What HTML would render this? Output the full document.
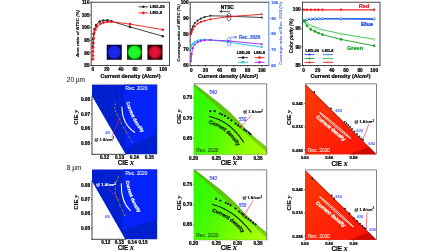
<!DOCTYPE html>
<html><head><meta charset="utf-8"><title>Figure</title>
<style>html,body{margin:0;padding:0;background:#fff;overflow:hidden}svg{display:block;filter:blur(0.35px)}text{font-family:"Liberation Sans", sans-serif}</style>
</head><body>
<svg width="448" height="252" viewBox="0 0 448 252">
<rect width="448" height="252" fill="#fff"/>
<defs>
<radialGradient id="pb"><stop offset="0" stop-color="#1c2cf0"/><stop offset="0.8" stop-color="#1822e6"/><stop offset="1" stop-color="#0c1080"/></radialGradient>
<radialGradient id="pg"><stop offset="0" stop-color="#22fc2c"/><stop offset="0.8" stop-color="#1cf426"/><stop offset="1" stop-color="#0c8a14"/></radialGradient>
<radialGradient id="pr"><stop offset="0" stop-color="#e21a3a"/><stop offset="0.7" stop-color="#d80c30"/><stop offset="1" stop-color="#70040c"/></radialGradient>
<linearGradient id="gg" gradientUnits="userSpaceOnUse" x1="196" y1="118" x2="268" y2="150"><stop offset="0" stop-color="#34fa00"/><stop offset="0.3" stop-color="#50fb00"/><stop offset="0.7" stop-color="#8cfd00"/><stop offset="1" stop-color="#b0ff00"/></linearGradient>
<linearGradient id="gg2" gradientUnits="userSpaceOnUse" x1="196" y1="203.5" x2="268" y2="235.5"><stop offset="0" stop-color="#34fa00"/><stop offset="0.3" stop-color="#50fb00"/><stop offset="0.7" stop-color="#8cfd00"/><stop offset="1" stop-color="#b0ff00"/></linearGradient>
<linearGradient id="gb" x1="0" y1="0" x2="1" y2="1"><stop offset="0" stop-color="#44c400"/><stop offset="1" stop-color="#7cd600"/></linearGradient>
<linearGradient id="rg" x1="0" y1="0" x2="1" y2="1"><stop offset="0" stop-color="#ff3c00"/><stop offset="0.5" stop-color="#ff2606"/><stop offset="1" stop-color="#ff1008"/></linearGradient>
</defs>
<rect x="91.2" y="2.2" width="78.2" height="63.2" fill="none" stroke="#2a2a2a" stroke-width="0.85"/>
<line x1="92.7" y1="65.4" x2="92.7" y2="66.8" stroke="#111" stroke-width="0.5" />
<text x="92.7" y="71.3" font-size="4.7" fill="#000" font-weight="bold" text-anchor="middle" stroke="#000" stroke-width="0.24" >0</text>
<line x1="106.8" y1="65.4" x2="106.8" y2="66.8" stroke="#111" stroke-width="0.5" />
<text x="106.8" y="71.3" font-size="4.7" fill="#000" font-weight="bold" text-anchor="middle" stroke="#000" stroke-width="0.24" >20</text>
<line x1="120.9" y1="65.4" x2="120.9" y2="66.8" stroke="#111" stroke-width="0.5" />
<text x="120.9" y="71.3" font-size="4.7" fill="#000" font-weight="bold" text-anchor="middle" stroke="#000" stroke-width="0.24" >40</text>
<line x1="135" y1="65.4" x2="135" y2="66.8" stroke="#111" stroke-width="0.5" />
<text x="135" y="71.3" font-size="4.7" fill="#000" font-weight="bold" text-anchor="middle" stroke="#000" stroke-width="0.24" >60</text>
<line x1="149.1" y1="65.4" x2="149.1" y2="66.8" stroke="#111" stroke-width="0.5" />
<text x="149.1" y="71.3" font-size="4.7" fill="#000" font-weight="bold" text-anchor="middle" stroke="#000" stroke-width="0.24" >80</text>
<line x1="163.2" y1="65.4" x2="163.2" y2="66.8" stroke="#111" stroke-width="0.5" />
<text x="163.2" y="71.3" font-size="4.7" fill="#000" font-weight="bold" text-anchor="middle" stroke="#000" stroke-width="0.24" >100</text>
<line x1="99.75" y1="65.4" x2="99.75" y2="66.3" stroke="#111" stroke-width="0.4" />
<line x1="113.85" y1="65.4" x2="113.85" y2="66.3" stroke="#111" stroke-width="0.4" />
<line x1="127.95" y1="65.4" x2="127.95" y2="66.3" stroke="#111" stroke-width="0.4" />
<line x1="142.05" y1="65.4" x2="142.05" y2="66.3" stroke="#111" stroke-width="0.4" />
<line x1="156.15" y1="65.4" x2="156.15" y2="66.3" stroke="#111" stroke-width="0.4" />
<line x1="91.2" y1="65.35" x2="89.9" y2="65.35" stroke="#111" stroke-width="0.5" />
<text x="89.5" y="67.05" font-size="4.7" fill="#000" font-weight="bold" text-anchor="end" stroke="#000" stroke-width="0.24" >85</text>
<line x1="91.2" y1="52.8" x2="89.9" y2="52.8" stroke="#111" stroke-width="0.5" />
<text x="89.5" y="54.5" font-size="4.7" fill="#000" font-weight="bold" text-anchor="end" stroke="#000" stroke-width="0.24" >90</text>
<line x1="91.2" y1="40.25" x2="89.9" y2="40.25" stroke="#111" stroke-width="0.5" />
<text x="89.5" y="41.95" font-size="4.7" fill="#000" font-weight="bold" text-anchor="end" stroke="#000" stroke-width="0.24" >95</text>
<line x1="91.2" y1="27.7" x2="89.9" y2="27.7" stroke="#111" stroke-width="0.5" />
<text x="89.5" y="29.4" font-size="4.7" fill="#000" font-weight="bold" text-anchor="end" stroke="#000" stroke-width="0.24" >100</text>
<line x1="91.2" y1="15.15" x2="89.9" y2="15.15" stroke="#111" stroke-width="0.5" />
<text x="89.5" y="16.85" font-size="4.7" fill="#000" font-weight="bold" text-anchor="end" stroke="#000" stroke-width="0.24" >105</text>
<line x1="91.2" y1="2.6" x2="89.9" y2="2.6" stroke="#111" stroke-width="0.5" />
<text x="89.5" y="4.3" font-size="4.7" fill="#000" font-weight="bold" text-anchor="end" stroke="#000" stroke-width="0.24" >110</text>
<text x="130.5" y="78.2" font-size="5.4" fill="#000" font-weight="bold" text-anchor="middle" stroke="#000" stroke-width="0.24" >Current density (A/cm<tspan font-size="3.2" dy="-1.7">2</tspan><tspan dy="1.7">)</tspan></text>
<text x="79.2" y="33.5" font-size="4.4" fill="#000" font-weight="bold" text-anchor="middle" transform="rotate(-90 79.2 33.5)" stroke="#000" stroke-width="0.1" font-style="italic">Area ratio of NTSC (%)</text>
<polyline points="92.9,47 93,43 93.2,39 93.6,34 94.5,29 96.2,25 99.7,21.5 103.4,20.5 107.4,20.4 111.4,21.3 130,26.9 162.8,36.2" fill="none" stroke="#2a2a2a" stroke-width="0.9" stroke-linejoin="round" />
<circle cx="92.9" cy="47" r="1.3" fill="#2a2a2a"/>
<circle cx="93" cy="43" r="1.3" fill="#2a2a2a"/>
<circle cx="93.2" cy="39" r="1.3" fill="#2a2a2a"/>
<circle cx="93.6" cy="34" r="1.3" fill="#2a2a2a"/>
<circle cx="94.5" cy="29" r="1.3" fill="#2a2a2a"/>
<circle cx="96.2" cy="25" r="1.3" fill="#2a2a2a"/>
<circle cx="99.7" cy="21.5" r="1.3" fill="#2a2a2a"/>
<circle cx="103.4" cy="20.5" r="1.3" fill="#2a2a2a"/>
<circle cx="107.4" cy="20.4" r="1.3" fill="#2a2a2a"/>
<circle cx="111.4" cy="21.3" r="1.3" fill="#2a2a2a"/>
<circle cx="130" cy="26.9" r="1.3" fill="#2a2a2a"/>
<circle cx="162.8" cy="36.2" r="1.3" fill="#2a2a2a"/>
<polyline points="92.9,59.3 92.95,55.5 93,51.5 93.1,47.5 93.3,43 93.6,38 94.2,33 95.4,29.7 97,26.5 100.2,23.8 103.4,22.6 107.4,22 111.4,21.7 130,24.1 162.8,29.7" fill="none" stroke="#f01818" stroke-width="0.9" stroke-linejoin="round" />
<circle cx="92.9" cy="59.3" r="1.3" fill="#f01818"/>
<circle cx="92.95" cy="55.5" r="1.3" fill="#f01818"/>
<circle cx="93" cy="51.5" r="1.3" fill="#f01818"/>
<circle cx="93.1" cy="47.5" r="1.3" fill="#f01818"/>
<circle cx="93.3" cy="43" r="1.3" fill="#f01818"/>
<circle cx="93.6" cy="38" r="1.3" fill="#f01818"/>
<circle cx="94.2" cy="33" r="1.3" fill="#f01818"/>
<circle cx="95.4" cy="29.7" r="1.3" fill="#f01818"/>
<circle cx="97" cy="26.5" r="1.3" fill="#f01818"/>
<circle cx="100.2" cy="23.8" r="1.3" fill="#f01818"/>
<circle cx="103.4" cy="22.6" r="1.3" fill="#f01818"/>
<circle cx="107.4" cy="22" r="1.3" fill="#f01818"/>
<circle cx="111.4" cy="21.7" r="1.3" fill="#f01818"/>
<circle cx="130" cy="24.1" r="1.3" fill="#f01818"/>
<circle cx="162.8" cy="29.7" r="1.3" fill="#f01818"/>
<polyline points="138.5,6.8 148.2,6.8" fill="none" stroke="#2a2a2a" stroke-width="0.9" stroke-linejoin="round" />
<circle cx="143.3" cy="6.8" r="1.3" fill="#2a2a2a"/>
<text x="149.8" y="8.3" font-size="4.3" fill="#000" font-weight="bold" stroke="#000" stroke-width="0.24" >LED-20</text>
<polyline points="138.5,12.9 148.2,12.9" fill="none" stroke="#f01818" stroke-width="0.9" stroke-linejoin="round" />
<circle cx="143.3" cy="12.9" r="1.3" fill="#f01818"/>
<text x="149.8" y="14.4" font-size="4.3" fill="#000" font-weight="bold" stroke="#000" stroke-width="0.24" >LED-8</text>
<rect x="106.7" y="44.7" width="15.1" height="15.1" fill="#080640"/>
<circle cx="114.25" cy="52.25" r="6.9" fill="url(#pb)"/>
<rect x="127" y="44.7" width="15.1" height="15.1" fill="#084a0c"/>
<circle cx="134.55" cy="52.25" r="6.9" fill="url(#pg)"/>
<rect x="147.4" y="44.7" width="15.1" height="15.1" fill="#200202"/>
<circle cx="154.95000000000002" cy="52.25" r="6.9" fill="url(#pr)"/>
<polyline points="268.8,2.2 190.2,2.2 190.2,65.6 268.8,65.6" fill="none" stroke="#111" stroke-width="0.8"/>
<line x1="268.8" y1="2.2" x2="268.8" y2="65.6" stroke="#3a64ea" stroke-width="0.8" />
<line x1="191.3" y1="65.6" x2="191.3" y2="67" stroke="#111" stroke-width="0.5" />
<text x="191.3" y="71.5" font-size="4.7" fill="#000" font-weight="bold" text-anchor="middle" stroke="#000" stroke-width="0.24" >0</text>
<line x1="205.4" y1="65.6" x2="205.4" y2="67" stroke="#111" stroke-width="0.5" />
<text x="205.4" y="71.5" font-size="4.7" fill="#000" font-weight="bold" text-anchor="middle" stroke="#000" stroke-width="0.24" >20</text>
<line x1="219.5" y1="65.6" x2="219.5" y2="67" stroke="#111" stroke-width="0.5" />
<text x="219.5" y="71.5" font-size="4.7" fill="#000" font-weight="bold" text-anchor="middle" stroke="#000" stroke-width="0.24" >40</text>
<line x1="233.6" y1="65.6" x2="233.6" y2="67" stroke="#111" stroke-width="0.5" />
<text x="233.6" y="71.5" font-size="4.7" fill="#000" font-weight="bold" text-anchor="middle" stroke="#000" stroke-width="0.24" >60</text>
<line x1="247.7" y1="65.6" x2="247.7" y2="67" stroke="#111" stroke-width="0.5" />
<text x="247.7" y="71.5" font-size="4.7" fill="#000" font-weight="bold" text-anchor="middle" stroke="#000" stroke-width="0.24" >80</text>
<line x1="261.8" y1="65.6" x2="261.8" y2="67" stroke="#111" stroke-width="0.5" />
<text x="261.8" y="71.5" font-size="4.7" fill="#000" font-weight="bold" text-anchor="middle" stroke="#000" stroke-width="0.24" >100</text>
<line x1="198.35" y1="65.6" x2="198.35" y2="66.5" stroke="#111" stroke-width="0.4" />
<line x1="212.45" y1="65.6" x2="212.45" y2="66.5" stroke="#111" stroke-width="0.4" />
<line x1="226.55" y1="65.6" x2="226.55" y2="66.5" stroke="#111" stroke-width="0.4" />
<line x1="240.65" y1="65.6" x2="240.65" y2="66.5" stroke="#111" stroke-width="0.4" />
<line x1="254.75" y1="65.6" x2="254.75" y2="66.5" stroke="#111" stroke-width="0.4" />
<line x1="190.2" y1="65.6" x2="188.9" y2="65.6" stroke="#111" stroke-width="0.5" />
<text x="188.5" y="67.3" font-size="4.7" fill="#000" font-weight="bold" text-anchor="end" stroke="#000" stroke-width="0.24" >60</text>
<line x1="268.8" y1="65.6" x2="270.1" y2="65.6" stroke="#3a64ea" stroke-width="0.5" />
<text x="271.2" y="67.1" font-size="4.2" fill="#3a64ea" font-weight="bold" stroke="#3a64ea" stroke-width="0.15" >60</text>
<line x1="190.2" y1="49.75" x2="188.9" y2="49.75" stroke="#111" stroke-width="0.5" />
<text x="188.5" y="51.45" font-size="4.7" fill="#000" font-weight="bold" text-anchor="end" stroke="#000" stroke-width="0.24" >70</text>
<line x1="268.8" y1="49.75" x2="270.1" y2="49.75" stroke="#3a64ea" stroke-width="0.5" />
<text x="271.2" y="51.25" font-size="4.2" fill="#3a64ea" font-weight="bold" stroke="#3a64ea" stroke-width="0.15" >70</text>
<line x1="190.2" y1="33.9" x2="188.9" y2="33.9" stroke="#111" stroke-width="0.5" />
<text x="188.5" y="35.6" font-size="4.7" fill="#000" font-weight="bold" text-anchor="end" stroke="#000" stroke-width="0.24" >80</text>
<line x1="268.8" y1="33.9" x2="270.1" y2="33.9" stroke="#3a64ea" stroke-width="0.5" />
<text x="271.2" y="35.4" font-size="4.2" fill="#3a64ea" font-weight="bold" stroke="#3a64ea" stroke-width="0.15" >80</text>
<line x1="190.2" y1="18.05" x2="188.9" y2="18.05" stroke="#111" stroke-width="0.5" />
<text x="188.5" y="19.75" font-size="4.7" fill="#000" font-weight="bold" text-anchor="end" stroke="#000" stroke-width="0.24" >90</text>
<line x1="268.8" y1="18.05" x2="270.1" y2="18.05" stroke="#3a64ea" stroke-width="0.5" />
<text x="271.2" y="19.55" font-size="4.2" fill="#3a64ea" font-weight="bold" stroke="#3a64ea" stroke-width="0.15" >90</text>
<line x1="190.2" y1="2.2" x2="188.9" y2="2.2" stroke="#111" stroke-width="0.5" />
<text x="188.5" y="3.9" font-size="4.7" fill="#000" font-weight="bold" text-anchor="end" stroke="#000" stroke-width="0.24" >100</text>
<line x1="268.8" y1="2.2" x2="270.1" y2="2.2" stroke="#3a64ea" stroke-width="0.5" />
<text x="271.2" y="3.7" font-size="4.2" fill="#3a64ea" font-weight="bold" stroke="#3a64ea" stroke-width="0.15" >100</text>
<line x1="268.8" y1="57.67" x2="269.7" y2="57.67" stroke="#3a64ea" stroke-width="0.4" />
<line x1="190.2" y1="57.67" x2="189.3" y2="57.67" stroke="#111" stroke-width="0.4" />
<line x1="268.8" y1="41.82" x2="269.7" y2="41.82" stroke="#3a64ea" stroke-width="0.4" />
<line x1="190.2" y1="41.82" x2="189.3" y2="41.82" stroke="#111" stroke-width="0.4" />
<line x1="268.8" y1="25.97" x2="269.7" y2="25.97" stroke="#3a64ea" stroke-width="0.4" />
<line x1="190.2" y1="25.97" x2="189.3" y2="25.97" stroke="#111" stroke-width="0.4" />
<line x1="268.8" y1="10.12" x2="269.7" y2="10.12" stroke="#3a64ea" stroke-width="0.4" />
<line x1="190.2" y1="10.12" x2="189.3" y2="10.12" stroke="#111" stroke-width="0.4" />
<text x="228" y="78.4" font-size="5.4" fill="#000" font-weight="bold" text-anchor="middle" stroke="#000" stroke-width="0.24" >Current density (A/cm<tspan font-size="3.2" dy="-1.7">2</tspan><tspan dy="1.7">)</tspan></text>
<text x="180.4" y="33" font-size="4.4" fill="#000" font-weight="bold" text-anchor="middle" transform="rotate(-90 180.4 33)" stroke="#000" stroke-width="0.1" font-style="italic">Coverage ratio of NTSC (%)</text>
<text x="282" y="33.5" font-size="4.2" fill="#3a64ea" font-weight="bold" text-anchor="middle" transform="rotate(-90 282 33.5)" >Coverage ratio of Rec. 2020 (%)</text>
<polyline points="190.8,33 191.5,30 192.8,26.5 194.3,23.5 196,21.7 198,20.2 200,19 204.9,16.9 210.5,15.8 228.5,16.2 261.8,17.5" fill="none" stroke="#2a2a2a" stroke-width="0.9" stroke-linejoin="round" />
<circle cx="191" cy="32.14" r="1.05" fill="#2a2a2a"/>
<circle cx="191.7" cy="29.46" r="1.05" fill="#2a2a2a"/>
<circle cx="192.8" cy="26.5" r="1.05" fill="#2a2a2a"/>
<circle cx="194.8" cy="22.97" r="1.05" fill="#2a2a2a"/>
<circle cx="197.7" cy="20.43" r="1.05" fill="#2a2a2a"/>
<circle cx="200.9" cy="18.61" r="1.05" fill="#2a2a2a"/>
<circle cx="204.6" cy="17.03" r="1.05" fill="#2a2a2a"/>
<circle cx="210.5" cy="15.8" r="1.05" fill="#2a2a2a"/>
<circle cx="228.5" cy="16.2" r="1.05" fill="#2a2a2a"/>
<circle cx="261.8" cy="17.5" r="1.05" fill="#2a2a2a"/>
<polyline points="190.8,34.8 192,31 193.6,28.1 195.2,25.8 196.9,24.1 200,22.2 204.9,20.6 210.5,19.3 216.2,18.5 228.5,16.6 261.8,14.3" fill="none" stroke="#f01818" stroke-width="0.9" stroke-linejoin="round" />
<circle cx="191" cy="34.17" r="1.05" fill="#f01818"/>
<circle cx="191.7" cy="31.95" r="1.05" fill="#f01818"/>
<circle cx="192.8" cy="29.55" r="1.05" fill="#f01818"/>
<circle cx="194.8" cy="26.37" r="1.05" fill="#f01818"/>
<circle cx="197.7" cy="23.61" r="1.05" fill="#f01818"/>
<circle cx="200.9" cy="21.91" r="1.05" fill="#f01818"/>
<circle cx="204.6" cy="20.7" r="1.05" fill="#f01818"/>
<circle cx="210.5" cy="19.3" r="1.05" fill="#f01818"/>
<circle cx="228.5" cy="16.6" r="1.05" fill="#f01818"/>
<circle cx="261.8" cy="14.3" r="1.05" fill="#f01818"/>
<polyline points="191,48.5 191.2,46.1 192.8,43.7 195.3,41.6 198.5,40.1 202.5,39.6 206.5,39.6 210.5,40 228.5,42.1 261.8,47" fill="none" stroke="#18c8d8" stroke-width="0.9" stroke-linejoin="round" />
<circle cx="191" cy="48.5" r="1.05" fill="#18c8d8"/>
<circle cx="191.7" cy="45.35" r="1.05" fill="#18c8d8"/>
<circle cx="192.8" cy="43.7" r="1.05" fill="#18c8d8"/>
<circle cx="194.8" cy="42.02" r="1.05" fill="#18c8d8"/>
<circle cx="197.7" cy="40.48" r="1.05" fill="#18c8d8"/>
<circle cx="200.9" cy="39.8" r="1.05" fill="#18c8d8"/>
<circle cx="204.6" cy="39.6" r="1.05" fill="#18c8d8"/>
<circle cx="210.5" cy="40" r="1.05" fill="#18c8d8"/>
<circle cx="228.5" cy="42.1" r="1.05" fill="#18c8d8"/>
<circle cx="261.8" cy="47" r="1.05" fill="#18c8d8"/>
<polyline points="191,61 191.2,58.9 191.7,54.1 192.4,49.3 193.6,45.8 196.1,43.2 198.5,41.6 202.5,40.6 206.5,40.1 210.5,40 228.5,40.9 261.8,44.2" fill="none" stroke="#a020f0" stroke-width="0.9" stroke-linejoin="round" />
<circle cx="191" cy="61" r="1.05" fill="#a020f0"/>
<circle cx="191.7" cy="54.1" r="1.05" fill="#a020f0"/>
<circle cx="192.8" cy="48.13" r="1.05" fill="#a020f0"/>
<circle cx="194.8" cy="44.55" r="1.05" fill="#a020f0"/>
<circle cx="197.7" cy="42.13" r="1.05" fill="#a020f0"/>
<circle cx="200.9" cy="41" r="1.05" fill="#a020f0"/>
<circle cx="204.6" cy="40.34" r="1.05" fill="#a020f0"/>
<circle cx="210.5" cy="40" r="1.05" fill="#a020f0"/>
<circle cx="228.5" cy="40.9" r="1.05" fill="#a020f0"/>
<circle cx="261.8" cy="44.2" r="1.05" fill="#a020f0"/>
<text x="227.3" y="9.3" font-size="4.8" fill="#000" font-weight="bold" text-anchor="middle" stroke="#000" stroke-width="0.24" >NTSC</text>
<path d="M230 11.4 L220 11.4 M222.1 10.1 L219.8 11.4 L222.1 12.7" stroke="#111" stroke-width="0.7" fill="none"/>
<ellipse cx="229" cy="17" rx="2" ry="3.9" fill="none" stroke="#111" stroke-width="0.6"/>
<ellipse cx="229" cy="41.6" rx="2" ry="4.4" fill="none" stroke="#3a64ea" stroke-width="0.6"/>
<path d="M230.5 37.2 L236.5 37.2 M234.6 36 L236.9 37.2 L234.6 38.4" stroke="#3a64ea" stroke-width="0.7" fill="none"/>
<text x="239" y="38.8" font-size="4.6" fill="#3a64ea" font-weight="bold" stroke="#3a64ea" stroke-width="0.24" >Rec. 2020</text>
<text x="236.8" y="54.2" font-size="3.9" fill="#000" font-weight="bold" stroke="#000" stroke-width="0.24" >LED-20</text>
<text x="253.8" y="54.2" font-size="3.9" fill="#000" font-weight="bold" stroke="#000" stroke-width="0.24" >LED-8</text>
<polyline points="238,57.6 248,57.6" fill="none" stroke="#2a2a2a" stroke-width="0.9" stroke-linejoin="round" />
<circle cx="243" cy="57.6" r="1.3" fill="#2a2a2a"/>
<polyline points="254.5,57.6 264.5,57.6" fill="none" stroke="#f01818" stroke-width="0.9" stroke-linejoin="round" />
<circle cx="259.5" cy="57.6" r="1.3" fill="#f01818"/>
<polyline points="238,62.3 248,62.3" fill="none" stroke="#18c8d8" stroke-width="0.9" stroke-linejoin="round" />
<circle cx="243" cy="62.3" r="1.3" fill="#18c8d8"/>
<polyline points="254.5,62.3 264.5,62.3" fill="none" stroke="#a020f0" stroke-width="0.9" stroke-linejoin="round" />
<circle cx="259.5" cy="62.3" r="1.3" fill="#a020f0"/>
<rect x="302.4" y="2.2" width="77.6" height="63.4" fill="none" stroke="#2a2a2a" stroke-width="0.85"/>
<line x1="303.6" y1="65.6" x2="303.6" y2="67" stroke="#111" stroke-width="0.5" />
<text x="303.6" y="71.5" font-size="4.7" fill="#000" font-weight="bold" text-anchor="middle" stroke="#000" stroke-width="0.24" >0</text>
<line x1="317.7" y1="65.6" x2="317.7" y2="67" stroke="#111" stroke-width="0.5" />
<text x="317.7" y="71.5" font-size="4.7" fill="#000" font-weight="bold" text-anchor="middle" stroke="#000" stroke-width="0.24" >20</text>
<line x1="331.8" y1="65.6" x2="331.8" y2="67" stroke="#111" stroke-width="0.5" />
<text x="331.8" y="71.5" font-size="4.7" fill="#000" font-weight="bold" text-anchor="middle" stroke="#000" stroke-width="0.24" >40</text>
<line x1="345.9" y1="65.6" x2="345.9" y2="67" stroke="#111" stroke-width="0.5" />
<text x="345.9" y="71.5" font-size="4.7" fill="#000" font-weight="bold" text-anchor="middle" stroke="#000" stroke-width="0.24" >60</text>
<line x1="360" y1="65.6" x2="360" y2="67" stroke="#111" stroke-width="0.5" />
<text x="360" y="71.5" font-size="4.7" fill="#000" font-weight="bold" text-anchor="middle" stroke="#000" stroke-width="0.24" >80</text>
<line x1="374.1" y1="65.6" x2="374.1" y2="67" stroke="#111" stroke-width="0.5" />
<text x="374.1" y="71.5" font-size="4.7" fill="#000" font-weight="bold" text-anchor="middle" stroke="#000" stroke-width="0.24" >100</text>
<line x1="310.65" y1="65.6" x2="310.65" y2="66.5" stroke="#111" stroke-width="0.4" />
<line x1="324.75" y1="65.6" x2="324.75" y2="66.5" stroke="#111" stroke-width="0.4" />
<line x1="338.85" y1="65.6" x2="338.85" y2="66.5" stroke="#111" stroke-width="0.4" />
<line x1="352.95" y1="65.6" x2="352.95" y2="66.5" stroke="#111" stroke-width="0.4" />
<line x1="367.05" y1="65.6" x2="367.05" y2="66.5" stroke="#111" stroke-width="0.4" />
<line x1="302.4" y1="65.4" x2="301.1" y2="65.4" stroke="#111" stroke-width="0.5" />
<text x="300.7" y="67.1" font-size="4.7" fill="#000" font-weight="bold" text-anchor="end" stroke="#000" stroke-width="0.24" >85</text>
<line x1="302.4" y1="46.8" x2="301.1" y2="46.8" stroke="#111" stroke-width="0.5" />
<text x="300.7" y="48.5" font-size="4.7" fill="#000" font-weight="bold" text-anchor="end" stroke="#000" stroke-width="0.24" >90</text>
<line x1="302.4" y1="28.2" x2="301.1" y2="28.2" stroke="#111" stroke-width="0.5" />
<text x="300.7" y="29.9" font-size="4.7" fill="#000" font-weight="bold" text-anchor="end" stroke="#000" stroke-width="0.24" >95</text>
<line x1="302.4" y1="9.6" x2="301.1" y2="9.6" stroke="#111" stroke-width="0.5" />
<text x="300.7" y="11.3" font-size="4.7" fill="#000" font-weight="bold" text-anchor="end" stroke="#000" stroke-width="0.24" >100</text>
<text x="340.5" y="78.4" font-size="5.4" fill="#000" font-weight="bold" text-anchor="middle" stroke="#000" stroke-width="0.24" >Current density (A/cm<tspan font-size="3.2" dy="-1.7">2</tspan><tspan dy="1.7">)</tspan></text>
<text x="292.6" y="36" font-size="4.6" fill="#000" font-weight="bold" text-anchor="middle" transform="rotate(-90 292.6 36)" stroke="#000" stroke-width="0.1" font-style="italic">Color purity (%)</text>
<polyline points="303.88,10.16 306.91,10.16 310.79,10.16 315.02,10.16 318.48,10.16 322.49,10.16 340.97,10.16 374.1,10.16" fill="none" stroke="#f01818" stroke-width="0.6" stroke-linejoin="round" />
<circle cx="303.88" cy="10.16" r="0.9000000000000001" fill="#fff" stroke="#f01818" stroke-width="0.5"/>
<circle cx="306.91" cy="10.16" r="0.9000000000000001" fill="#fff" stroke="#f01818" stroke-width="0.5"/>
<circle cx="310.79" cy="10.16" r="0.9000000000000001" fill="#fff" stroke="#f01818" stroke-width="0.5"/>
<circle cx="315.02" cy="10.16" r="0.9000000000000001" fill="#fff" stroke="#f01818" stroke-width="0.5"/>
<circle cx="318.48" cy="10.16" r="0.9000000000000001" fill="#fff" stroke="#f01818" stroke-width="0.5"/>
<circle cx="322.49" cy="10.16" r="0.9000000000000001" fill="#fff" stroke="#f01818" stroke-width="0.5"/>
<circle cx="340.97" cy="10.16" r="0.9000000000000001" fill="#fff" stroke="#f01818" stroke-width="0.5"/>
<circle cx="374.1" cy="10.16" r="0.9000000000000001" fill="#fff" stroke="#f01818" stroke-width="0.5"/>
<polyline points="303.88,9.6 306.91,9.6 310.79,9.6 315.02,9.6 318.48,9.6 322.49,9.6 340.97,9.6 374.1,9.6" fill="none" stroke="#f01818" stroke-width="0.7" stroke-linejoin="round" />
<circle cx="303.88" cy="9.6" r="1.1" fill="#f01818"/>
<circle cx="306.91" cy="9.6" r="1.1" fill="#f01818"/>
<circle cx="310.79" cy="9.6" r="1.1" fill="#f01818"/>
<circle cx="315.02" cy="9.6" r="1.1" fill="#f01818"/>
<circle cx="318.48" cy="9.6" r="1.1" fill="#f01818"/>
<circle cx="322.49" cy="9.6" r="1.1" fill="#f01818"/>
<circle cx="340.97" cy="9.6" r="1.1" fill="#f01818"/>
<circle cx="374.1" cy="9.6" r="1.1" fill="#f01818"/>
<polyline points="303.88,21.13 306.91,20.02 310.79,19.27 315.02,19.09 318.48,18.9 322.49,18.9 340.97,18.9 374.1,19.09" fill="none" stroke="#1838f0" stroke-width="1.1" stroke-linejoin="round" />
<circle cx="303.88" cy="21.13" r="1.3" fill="#1838f0"/>
<circle cx="306.91" cy="20.02" r="1.3" fill="#1838f0"/>
<circle cx="310.79" cy="19.27" r="1.3" fill="#1838f0"/>
<circle cx="315.02" cy="19.09" r="1.3" fill="#1838f0"/>
<circle cx="318.48" cy="18.9" r="1.3" fill="#1838f0"/>
<circle cx="322.49" cy="18.9" r="1.3" fill="#1838f0"/>
<circle cx="340.97" cy="18.9" r="1.3" fill="#1838f0"/>
<circle cx="374.1" cy="19.09" r="1.3" fill="#1838f0"/>
<polyline points="303.88,20.69 306.91,19.57 310.79,18.83 315.02,18.64 318.48,18.45 322.49,18.45 340.97,18.45 374.1,18.64" fill="none" stroke="#1870f0" stroke-width="0.9" stroke-linejoin="round" />
<circle cx="303.88" cy="20.69" r="1.1" fill="#fff" stroke="#1870f0" stroke-width="0.5"/>
<circle cx="306.91" cy="19.57" r="1.1" fill="#fff" stroke="#1870f0" stroke-width="0.5"/>
<circle cx="310.79" cy="18.83" r="1.1" fill="#fff" stroke="#1870f0" stroke-width="0.5"/>
<circle cx="315.02" cy="18.64" r="1.1" fill="#fff" stroke="#1870f0" stroke-width="0.5"/>
<circle cx="318.48" cy="18.45" r="1.1" fill="#fff" stroke="#1870f0" stroke-width="0.5"/>
<circle cx="322.49" cy="18.45" r="1.1" fill="#fff" stroke="#1870f0" stroke-width="0.5"/>
<circle cx="340.97" cy="18.45" r="1.1" fill="#fff" stroke="#1870f0" stroke-width="0.5"/>
<circle cx="374.1" cy="18.64" r="1.1" fill="#fff" stroke="#1870f0" stroke-width="0.5"/>
<polyline points="303.88,20.8 306.91,23.3 310.79,25.7 315.02,27.3 318.48,28.6 322.49,29.7 340.97,33.8 374.1,39.3" fill="none" stroke="#30c040" stroke-width="0.9" stroke-linejoin="round" />
<circle cx="303.88" cy="20.8" r="1.1" fill="#fff" stroke="#30c040" stroke-width="0.5"/>
<circle cx="306.91" cy="23.3" r="1.1" fill="#fff" stroke="#30c040" stroke-width="0.5"/>
<circle cx="310.79" cy="25.7" r="1.1" fill="#fff" stroke="#30c040" stroke-width="0.5"/>
<circle cx="315.02" cy="27.3" r="1.1" fill="#fff" stroke="#30c040" stroke-width="0.5"/>
<circle cx="318.48" cy="28.6" r="1.1" fill="#fff" stroke="#30c040" stroke-width="0.5"/>
<circle cx="322.49" cy="29.7" r="1.1" fill="#fff" stroke="#30c040" stroke-width="0.5"/>
<circle cx="340.97" cy="33.8" r="1.1" fill="#fff" stroke="#30c040" stroke-width="0.5"/>
<circle cx="374.1" cy="39.3" r="1.1" fill="#fff" stroke="#30c040" stroke-width="0.5"/>
<polyline points="303.88,21 306.91,25.7 310.79,29.4 315.02,31.4 318.48,33 322.49,34.6 340.97,39.4 374.1,45.8" fill="none" stroke="#10a020" stroke-width="0.9" stroke-linejoin="round" />
<circle cx="303.88" cy="21" r="1.3" fill="#10a020"/>
<circle cx="306.91" cy="25.7" r="1.3" fill="#10a020"/>
<circle cx="310.79" cy="29.4" r="1.3" fill="#10a020"/>
<circle cx="315.02" cy="31.4" r="1.3" fill="#10a020"/>
<circle cx="318.48" cy="33" r="1.3" fill="#10a020"/>
<circle cx="322.49" cy="34.6" r="1.3" fill="#10a020"/>
<circle cx="340.97" cy="39.4" r="1.3" fill="#10a020"/>
<circle cx="374.1" cy="45.8" r="1.3" fill="#10a020"/>
<text x="364" y="7.6" font-size="5.6" fill="#f01818" font-weight="bold" text-anchor="middle" stroke="#f01818" stroke-width="0.24" >Red</text>
<text x="367" y="26.3" font-size="5.6" fill="#1838f0" font-weight="bold" text-anchor="middle" stroke="#1838f0" stroke-width="0.24" >Blue</text>
<text x="355" y="49.6" font-size="5.6" fill="#10a020" font-weight="bold" text-anchor="middle" stroke="#10a020" stroke-width="0.24" >Green</text>
<text x="305.5" y="52.3" font-size="3.9" fill="#000" font-weight="bold" stroke="#000" stroke-width="0.24" >LED-20</text>
<text x="322.3" y="52.3" font-size="3.9" fill="#000" font-weight="bold" stroke="#000" stroke-width="0.24" >LED-8</text>
<polyline points="304.5,54.6 314.5,54.6" fill="none" stroke="#1838f0" stroke-width="0.9" stroke-linejoin="round" />
<circle cx="309.5" cy="54.6" r="1" fill="#1838f0"/>
<polyline points="323,54.6 333,54.6" fill="none" stroke="#1870f0" stroke-width="0.9" stroke-linejoin="round" />
<circle cx="328" cy="54.6" r="0.8" fill="#fff" stroke="#1870f0" stroke-width="0.5"/>
<polyline points="304.5,58.5 314.5,58.5" fill="none" stroke="#10a020" stroke-width="0.9" stroke-linejoin="round" />
<circle cx="309.5" cy="58.5" r="1" fill="#10a020"/>
<polyline points="323,58.5 333,58.5" fill="none" stroke="#30c040" stroke-width="0.9" stroke-linejoin="round" />
<circle cx="328" cy="58.5" r="0.8" fill="#fff" stroke="#30c040" stroke-width="0.5"/>
<polyline points="304.5,62.4 314.5,62.4" fill="none" stroke="#f01818" stroke-width="0.9" stroke-linejoin="round" />
<circle cx="309.5" cy="62.4" r="1" fill="#f01818"/>
<polyline points="323,62.4 333,62.4" fill="none" stroke="#f01818" stroke-width="0.9" stroke-linejoin="round" />
<circle cx="328" cy="62.4" r="0.8" fill="#fff" stroke="#f01818" stroke-width="0.5"/>
<polygon points="92,84.5 157.1,84.5 157.1,154.3 125.7,154.3 92,96" fill="#0020d0"/>
<polygon points="123.6,84.5 157.1,84.5 157.1,133.6 125.4,147.9" fill="#0422fa"/>
<line x1="104.5" y1="84.5" x2="104.5" y2="154.3" stroke="#aaa" stroke-width="0.3" stroke-dasharray="0.5 1" opacity="0.3"/>
<line x1="104.5" y1="154.3" x2="104.5" y2="155.5" stroke="#111" stroke-width="0.5" />
<text x="104.5" y="159.3" font-size="4.7" fill="#000" font-weight="bold" text-anchor="middle" stroke="#000" stroke-width="0.24" >0.12</text>
<line x1="119.5" y1="84.5" x2="119.5" y2="154.3" stroke="#aaa" stroke-width="0.3" stroke-dasharray="0.5 1" opacity="0.3"/>
<line x1="119.5" y1="154.3" x2="119.5" y2="155.5" stroke="#111" stroke-width="0.5" />
<text x="119.5" y="159.3" font-size="4.7" fill="#000" font-weight="bold" text-anchor="middle" stroke="#000" stroke-width="0.24" >0.13</text>
<line x1="134.4" y1="84.5" x2="134.4" y2="154.3" stroke="#aaa" stroke-width="0.3" stroke-dasharray="0.5 1" opacity="0.3"/>
<line x1="134.4" y1="154.3" x2="134.4" y2="155.5" stroke="#111" stroke-width="0.5" />
<text x="134.4" y="159.3" font-size="4.7" fill="#000" font-weight="bold" text-anchor="middle" stroke="#000" stroke-width="0.24" >0.14</text>
<line x1="149.4" y1="84.5" x2="149.4" y2="154.3" stroke="#aaa" stroke-width="0.3" stroke-dasharray="0.5 1" opacity="0.3"/>
<line x1="149.4" y1="154.3" x2="149.4" y2="155.5" stroke="#111" stroke-width="0.5" />
<text x="149.4" y="159.3" font-size="4.7" fill="#000" font-weight="bold" text-anchor="middle" stroke="#000" stroke-width="0.24" >0.15</text>
<line x1="92" y1="100" x2="157.1" y2="100" stroke="#aaa" stroke-width="0.3" stroke-dasharray="0.5 1" opacity="0.3"/>
<line x1="92" y1="100" x2="90.8" y2="100" stroke="#111" stroke-width="0.5" />
<text x="90" y="101.4" font-size="4.7" fill="#000" font-weight="bold" text-anchor="end" stroke="#000" stroke-width="0.24" >0.08</text>
<line x1="92" y1="114.4" x2="157.1" y2="114.4" stroke="#aaa" stroke-width="0.3" stroke-dasharray="0.5 1" opacity="0.3"/>
<line x1="92" y1="114.4" x2="90.8" y2="114.4" stroke="#111" stroke-width="0.5" />
<text x="90" y="115.8" font-size="4.7" fill="#000" font-weight="bold" text-anchor="end" stroke="#000" stroke-width="0.24" >0.07</text>
<line x1="92" y1="128.8" x2="157.1" y2="128.8" stroke="#aaa" stroke-width="0.3" stroke-dasharray="0.5 1" opacity="0.3"/>
<line x1="92" y1="128.8" x2="90.8" y2="128.8" stroke="#111" stroke-width="0.5" />
<text x="90" y="130.2" font-size="4.7" fill="#000" font-weight="bold" text-anchor="end" stroke="#000" stroke-width="0.24" >0.06</text>
<line x1="92" y1="143.2" x2="157.1" y2="143.2" stroke="#aaa" stroke-width="0.3" stroke-dasharray="0.5 1" opacity="0.3"/>
<line x1="92" y1="143.2" x2="90.8" y2="143.2" stroke="#111" stroke-width="0.5" />
<text x="90" y="144.6" font-size="4.7" fill="#000" font-weight="bold" text-anchor="end" stroke="#000" stroke-width="0.24" >0.05</text>
<polyline points="92,84 157.6,84 157.6,154.3" fill="none" stroke="#e6deb4" stroke-width="0.7"/>
<line x1="92" y1="95.5" x2="92" y2="154.7" stroke="#111" stroke-width="0.8" />
<line x1="91.6" y1="154.3" x2="126.2" y2="154.3" stroke="#111" stroke-width="0.8" />
<text x="125.5" y="89.7" font-size="4.8" fill="#eef0ff" stroke="#eef0ff" stroke-width="0.1" >Rec. 2020</text>
<path d="M121.9 107.1 Q122.3 124.5 134.6 132.3" stroke="#fff" stroke-width="1.1" fill="none" stroke-linecap="round"/>
<text x="126.28 127.21 128.11 128.72 129.37 130.37 131.58 132.27 132.86 134.25 135.59 137.15 138.65 139.42 140.37" y="102.3 105.53 108.23 109.93 111.62 114 116.58 117.96 119.11 121.59 123.8 126.17 128.28 129.32 130.55" rotate="74.05 71.82 70.13 68.75 67.1 65.07 63.41 62.33 60.8 58.76 56.74 54.74 53.31 52.32 50.85" font-size="4.65" fill="#fff" font-weight="bold" stroke="#fff" stroke-width="0.2">Current density</text>
<polyline points="115.3,104 114.8,107.7 115.5,111.3 117.3,115 119.5,118.6 121.3,123.2 123.7,127.8 126.4,132.3 129.2,136.9 131.9,141.8" fill="none" stroke="#a08a28" stroke-width="0.7" stroke-linejoin="round" stroke-dasharray="0.8 0.8"/>
<rect x="114.7" y="103.4" width="1.2" height="1.2" fill="#a48c28"/>
<rect x="114.2" y="107.1" width="1.2" height="1.2" fill="#a48c28"/>
<rect x="114.9" y="110.7" width="1.2" height="1.2" fill="#a48c28"/>
<rect x="116.7" y="114.4" width="1.2" height="1.2" fill="#a48c28"/>
<rect x="118.9" y="118" width="1.2" height="1.2" fill="#a48c28"/>
<rect x="120.7" y="122.6" width="1.2" height="1.2" fill="#a48c28"/>
<rect x="123.1" y="127.2" width="1.2" height="1.2" fill="#a48c28"/>
<rect x="125.8" y="131.7" width="1.2" height="1.2" fill="#a48c28"/>
<rect x="128.6" y="136.3" width="1.2" height="1.2" fill="#a48c28"/>
<rect x="131.3" y="141.2" width="1.2" height="1.2" fill="#a48c28"/>
<line x1="119.5" y1="118.6" x2="111.7" y2="137" stroke="#e81870" stroke-width="0.6" />
<circle cx="119.5" cy="118.6" r="0.9" fill="#f01818"/>
<text x="94.5" y="140.6" font-size="4" fill="#000" font-weight="bold" stroke="#000" stroke-width="0.12" >@ 1 A/cm<tspan font-size="2.7" dy="-1.4">2</tspan></text>
<text x="105.5" y="134" font-size="2.8" fill="#3050ff" stroke="#3050ff" stroke-width="0.12" >470</text>
<text x="77.9" y="117.2" font-size="6.1" fill="#000" font-weight="bold" text-anchor="middle" transform="rotate(-90 77.9 117.2)" stroke="#000" stroke-width="0.12" >CIE <tspan font-family='"Liberation Serif", serif' font-style="italic" font-weight="bold" font-size="6.8">y</tspan></text>
<text x="125.8" y="164.7" font-size="6.4" fill="#000" font-weight="bold" text-anchor="middle" stroke="#000" stroke-width="0.15" >CIE <tspan font-family='"Liberation Serif", serif' font-style="italic" font-weight="bold" font-size="7.8">x</tspan></text>
<text x="66.8" y="81.8" font-size="6.5" fill="#222" stroke="#222" stroke-width="0.05" >20 µm</text>
<polygon points="92,169.6 157.1,169.6 157.1,239.3 125.3,239.3 92,181.2" fill="#0020d0"/>
<polygon points="123,169.6 157.1,169.6 157.1,219.3 122.6,229.7" fill="#0422fa"/>
<line x1="105.7" y1="169.6" x2="105.7" y2="239.3" stroke="#aaa" stroke-width="0.3" stroke-dasharray="0.5 1" opacity="0.3"/>
<line x1="105.7" y1="239.3" x2="105.7" y2="240.5" stroke="#111" stroke-width="0.5" />
<text x="105.7" y="244.3" font-size="4.7" fill="#000" font-weight="bold" text-anchor="middle" stroke="#000" stroke-width="0.24" >0.12</text>
<line x1="119.4" y1="169.6" x2="119.4" y2="239.3" stroke="#aaa" stroke-width="0.3" stroke-dasharray="0.5 1" opacity="0.3"/>
<line x1="119.4" y1="239.3" x2="119.4" y2="240.5" stroke="#111" stroke-width="0.5" />
<text x="119.4" y="244.3" font-size="4.7" fill="#000" font-weight="bold" text-anchor="middle" stroke="#000" stroke-width="0.24" >0.13</text>
<line x1="132.2" y1="169.6" x2="132.2" y2="239.3" stroke="#aaa" stroke-width="0.3" stroke-dasharray="0.5 1" opacity="0.3"/>
<line x1="132.2" y1="239.3" x2="132.2" y2="240.5" stroke="#111" stroke-width="0.5" />
<text x="132.2" y="244.3" font-size="4.7" fill="#000" font-weight="bold" text-anchor="middle" stroke="#000" stroke-width="0.24" >0.14</text>
<line x1="143" y1="169.6" x2="143" y2="239.3" stroke="#aaa" stroke-width="0.3" stroke-dasharray="0.5 1" opacity="0.3"/>
<line x1="143" y1="239.3" x2="143" y2="240.5" stroke="#111" stroke-width="0.5" />
<text x="143" y="244.3" font-size="4.7" fill="#000" font-weight="bold" text-anchor="middle" stroke="#000" stroke-width="0.24" >0.15</text>
<line x1="92" y1="185.2" x2="157.1" y2="185.2" stroke="#aaa" stroke-width="0.3" stroke-dasharray="0.5 1" opacity="0.3"/>
<line x1="92" y1="185.2" x2="90.8" y2="185.2" stroke="#111" stroke-width="0.5" />
<text x="90" y="186.6" font-size="4.7" fill="#000" font-weight="bold" text-anchor="end" stroke="#000" stroke-width="0.24" >0.08</text>
<line x1="92" y1="199.6" x2="157.1" y2="199.6" stroke="#aaa" stroke-width="0.3" stroke-dasharray="0.5 1" opacity="0.3"/>
<line x1="92" y1="199.6" x2="90.8" y2="199.6" stroke="#111" stroke-width="0.5" />
<text x="90" y="201" font-size="4.7" fill="#000" font-weight="bold" text-anchor="end" stroke="#000" stroke-width="0.24" >0.07</text>
<line x1="92" y1="214" x2="157.1" y2="214" stroke="#aaa" stroke-width="0.3" stroke-dasharray="0.5 1" opacity="0.3"/>
<line x1="92" y1="214" x2="90.8" y2="214" stroke="#111" stroke-width="0.5" />
<text x="90" y="215.4" font-size="4.7" fill="#000" font-weight="bold" text-anchor="end" stroke="#000" stroke-width="0.24" >0.06</text>
<line x1="92" y1="228.4" x2="157.1" y2="228.4" stroke="#aaa" stroke-width="0.3" stroke-dasharray="0.5 1" opacity="0.3"/>
<line x1="92" y1="228.4" x2="90.8" y2="228.4" stroke="#111" stroke-width="0.5" />
<text x="90" y="229.8" font-size="4.7" fill="#000" font-weight="bold" text-anchor="end" stroke="#000" stroke-width="0.24" >0.05</text>
<line x1="92" y1="180.7" x2="92" y2="239.7" stroke="#111" stroke-width="0.8" />
<line x1="91.6" y1="239.3" x2="125.8" y2="239.3" stroke="#111" stroke-width="0.8" />
<text x="125.5" y="174.8" font-size="4.8" fill="#eef0ff" stroke="#eef0ff" stroke-width="0.1" >Rec. 2020</text>
<path d="M121.3 183.7 Q120.8 201.5 130.4 210.7" stroke="#fff" stroke-width="1.1" fill="none" stroke-linecap="round"/>
<text x="125.78 126.42 127.05 127.5 127.98 128.74 129.67 130.22 130.69 131.81 132.91 134.21 135.48 136.14 136.95" y="181.1 184.4 187.17 188.92 190.67 193.14 195.82 197.27 198.48 201.09 203.43 205.95 208.21 209.32 210.64" rotate="79.21 77.21 75.65 74.43 72.89 70.96 69.38 68.36 66.83 64.83 62.75 60.74 59.24 58.2 56.64" font-size="4.65" fill="#fff" font-weight="bold" stroke="#fff" stroke-width="0.2">Current density</text>
<polyline points="118.4,176.9 116.6,180.6 115.6,184.4 115,188.8 115.3,193.3 116.7,197.2 118.2,200 120,205.2 122.4,210.7 124.8,215.4" fill="none" stroke="#a08a28" stroke-width="0.7" stroke-linejoin="round" stroke-dasharray="0.8 0.8"/>
<rect x="117.8" y="176.3" width="1.2" height="1.2" fill="#a48c28"/>
<rect x="116" y="180" width="1.2" height="1.2" fill="#a48c28"/>
<rect x="115" y="183.8" width="1.2" height="1.2" fill="#a48c28"/>
<rect x="114.4" y="188.2" width="1.2" height="1.2" fill="#a48c28"/>
<rect x="114.7" y="192.7" width="1.2" height="1.2" fill="#a48c28"/>
<rect x="116.1" y="196.6" width="1.2" height="1.2" fill="#a48c28"/>
<rect x="117.6" y="199.4" width="1.2" height="1.2" fill="#a48c28"/>
<rect x="119.4" y="204.6" width="1.2" height="1.2" fill="#a48c28"/>
<rect x="121.8" y="210.1" width="1.2" height="1.2" fill="#a48c28"/>
<rect x="124.2" y="214.8" width="1.2" height="1.2" fill="#a48c28"/>
<line x1="117.6" y1="198.8" x2="108.2" y2="188.1" stroke="#e81870" stroke-width="0.6" />
<circle cx="117.6" cy="198.8" r="0.9" fill="#f01818"/>
<text x="96.2" y="186.2" font-size="4" fill="#fff" font-weight="bold" stroke="#fff" stroke-width="0.12" >@ 1 A/cm<tspan font-size="2.7" dy="-1.4">2</tspan></text>
<text x="105" y="217.8" font-size="2.8" fill="#3050ff" stroke="#3050ff" stroke-width="0.12" >470</text>
<text x="77.9" y="202.25" font-size="6.1" fill="#000" font-weight="bold" text-anchor="middle" transform="rotate(-90 77.9 202.25)" stroke="#000" stroke-width="0.12" >CIE <tspan font-family='"Liberation Serif", serif' font-style="italic" font-weight="bold" font-size="6.8">y</tspan></text>
<text x="125.8" y="249.7" font-size="6.4" fill="#000" font-weight="bold" text-anchor="middle" stroke="#000" stroke-width="0.15" >CIE <tspan font-family='"Liberation Serif", serif' font-style="italic" font-weight="bold" font-size="7.8">x</tspan></text>
<text x="66.8" y="169.6" font-size="6.5" fill="#222" stroke="#222" stroke-width="0.05" >8 µm</text>
<polygon points="194,83.8 194,84 201.1,89.3 210.3,96.6 219.4,103.5 230.3,113.1 238,120.8 241.1,124.5 250.3,133.6 253.9,137 266.7,147.6 266.7,154.3 194,154.3" fill="url(#gb)" stroke="#348a00" stroke-width="0.5"/>
<polygon points="194,86 266.7,152.6 266.7,154.3 194,154.3" fill="url(#gg)"/>
<line x1="194.9" y1="83.8" x2="194.9" y2="154.3" stroke="#999" stroke-width="0.3" stroke-dasharray="0.5 1" opacity="0.3"/>
<line x1="194.9" y1="154.3" x2="194.9" y2="155.5" stroke="#111" stroke-width="0.5" />
<text x="193.6" y="159.7" font-size="4.7" fill="#000" font-weight="bold" text-anchor="middle" stroke="#000" stroke-width="0.24" >0.20</text>
<line x1="215.9" y1="83.8" x2="215.9" y2="154.3" stroke="#999" stroke-width="0.3" stroke-dasharray="0.5 1" opacity="0.3"/>
<line x1="215.9" y1="154.3" x2="215.9" y2="155.5" stroke="#111" stroke-width="0.5" />
<text x="216.4" y="159.7" font-size="4.7" fill="#000" font-weight="bold" text-anchor="middle" stroke="#000" stroke-width="0.24" >0.25</text>
<line x1="236.9" y1="83.8" x2="236.9" y2="154.3" stroke="#999" stroke-width="0.3" stroke-dasharray="0.5 1" opacity="0.3"/>
<line x1="236.9" y1="154.3" x2="236.9" y2="155.5" stroke="#111" stroke-width="0.5" />
<text x="237.6" y="159.7" font-size="4.7" fill="#000" font-weight="bold" text-anchor="middle" stroke="#000" stroke-width="0.24" >0.30</text>
<line x1="257.9" y1="83.8" x2="257.9" y2="154.3" stroke="#999" stroke-width="0.3" stroke-dasharray="0.5 1" opacity="0.3"/>
<line x1="257.9" y1="154.3" x2="257.9" y2="155.5" stroke="#111" stroke-width="0.5" />
<text x="258" y="159.7" font-size="4.7" fill="#000" font-weight="bold" text-anchor="middle" stroke="#000" stroke-width="0.24" >0.35</text>
<line x1="194" y1="138.5" x2="266.7" y2="138.5" stroke="#999" stroke-width="0.3" stroke-dasharray="0.5 1" opacity="0.3"/>
<line x1="194" y1="138.5" x2="192.8" y2="138.5" stroke="#111" stroke-width="0.5" />
<text x="192" y="139.9" font-size="4.7" fill="#000" font-weight="bold" text-anchor="end" stroke="#000" stroke-width="0.24" >0.65</text>
<line x1="194" y1="118.1" x2="266.7" y2="118.1" stroke="#999" stroke-width="0.3" stroke-dasharray="0.5 1" opacity="0.3"/>
<line x1="194" y1="118.1" x2="192.8" y2="118.1" stroke="#111" stroke-width="0.5" />
<text x="192" y="119.5" font-size="4.7" fill="#000" font-weight="bold" text-anchor="end" stroke="#000" stroke-width="0.24" >0.70</text>
<line x1="194" y1="97.7" x2="266.7" y2="97.7" stroke="#999" stroke-width="0.3" stroke-dasharray="0.5 1" opacity="0.3"/>
<line x1="194" y1="97.7" x2="192.8" y2="97.7" stroke="#111" stroke-width="0.5" />
<text x="192" y="99.1" font-size="4.7" fill="#000" font-weight="bold" text-anchor="end" stroke="#000" stroke-width="0.24" >0.75</text>
<polyline points="194,83.8 266.7,83.8 266.7,154.3" fill="none" stroke="#808080" stroke-width="1"/>
<text x="209.2" y="94.2" font-size="4.5" fill="#1c30f4" stroke="#1c30f4" stroke-width="0.1" font-style="italic">540</text>
<text x="238.8" y="121.2" font-size="4.5" fill="#1c30f4" stroke="#1c30f4" stroke-width="0.1" font-style="italic">550</text>
<text x="196.3" y="151.8" font-size="4.9" fill="#1a5a10" stroke="#1a5a10" stroke-width="0.1" >Rec. 2020</text>
<circle cx="210.3" cy="111.1" r="1.1" fill="#10102a"/>
<circle cx="214.6" cy="111.2" r="1.1" fill="#10102a"/>
<circle cx="219.9" cy="113.6" r="1.1" fill="#10102a"/>
<circle cx="222.1" cy="114.5" r="1.1" fill="#10102a"/>
<circle cx="224.9" cy="115.9" r="1.1" fill="#10102a"/>
<circle cx="228.1" cy="118.1" r="1.1" fill="#10102a"/>
<circle cx="231.3" cy="120.3" r="1.1" fill="#10102a"/>
<circle cx="235.6" cy="123.7" r="1.1" fill="#10102a"/>
<circle cx="238.1" cy="125.4" r="1.1" fill="#10102a"/>
<circle cx="240.3" cy="127" r="1.1" fill="#10102a"/>
<circle cx="244.1" cy="129.7" r="1.1" fill="#10102a"/>
<circle cx="246.3" cy="131.1" r="1.1" fill="#10102a"/>
<circle cx="248.9" cy="132.7" r="1.1" fill="#10102a"/>
<circle cx="250.5" cy="134.2" r="1.1" fill="#10102a"/>
<path d="M209.5 116.5 Q230 121 243.5 142" stroke="#111" stroke-width="1.2" fill="none" stroke-linecap="round"/>
<text x="208.45 212 214.91 216.73 218.5 220.96 223.52 224.87 225.98 228.3 230.3 232.36 234.13 234.98 235.97" y="123.6 124.61 125.71 126.52 127.41 128.83 130.6 131.63 132.51 134.59 136.61 138.94 141.16 142.29 143.67" rotate="15.68 20.46 24 26.89 30.13 34.15 37.35 39.2 41.9 45.26 48.34 51.27 53.13 54.48 56.3" font-size="5.1" fill="#111" font-weight="bold" stroke="#111" stroke-width="0.24">Current density</text>
<line x1="251.5" y1="115" x2="240.2" y2="127.6" stroke="#f01830" stroke-width="0.6" />
<circle cx="240.2" cy="127.6" r="0.9" fill="#f01818"/>
<text x="243.3" y="113.2" font-size="4" fill="#000" font-weight="bold" stroke="#000" stroke-width="0.12" >@ 1 A/cm<tspan font-size="2.7" dy="-1.4">2</tspan></text>
<text x="181" y="116.6" font-size="6.1" fill="#000" font-weight="bold" text-anchor="middle" transform="rotate(-90 181 116.6)" stroke="#000" stroke-width="0.12" >CIE <tspan font-family='"Liberation Serif", serif' font-style="italic" font-weight="bold" font-size="6.8">y</tspan></text>
<text x="228.8" y="164.9" font-size="6.4" fill="#000" font-weight="bold" text-anchor="middle" stroke="#000" stroke-width="0.15" >CIE <tspan font-family='"Liberation Serif", serif' font-style="italic" font-weight="bold" font-size="7.8">x</tspan></text>
<polygon points="194,169.9 194,169.5 201.1,174.8 210.3,182.1 219.4,189 230.3,198.6 238,206.3 241.1,210 250.3,219.1 253.9,222.5 266.7,233.1 266.7,239.8 194,239.8" fill="url(#gb)" stroke="#348a00" stroke-width="0.5"/>
<polygon points="194,171.5 266.7,238.1 266.7,239.8 194,239.8" fill="url(#gg2)"/>
<line x1="194.9" y1="169.9" x2="194.9" y2="239.8" stroke="#999" stroke-width="0.3" stroke-dasharray="0.5 1" opacity="0.3"/>
<line x1="194.9" y1="239.8" x2="194.9" y2="241" stroke="#111" stroke-width="0.5" />
<text x="193.6" y="245.2" font-size="4.7" fill="#000" font-weight="bold" text-anchor="middle" stroke="#000" stroke-width="0.24" >0.20</text>
<line x1="215.9" y1="169.9" x2="215.9" y2="239.8" stroke="#999" stroke-width="0.3" stroke-dasharray="0.5 1" opacity="0.3"/>
<line x1="215.9" y1="239.8" x2="215.9" y2="241" stroke="#111" stroke-width="0.5" />
<text x="216.4" y="245.2" font-size="4.7" fill="#000" font-weight="bold" text-anchor="middle" stroke="#000" stroke-width="0.24" >0.25</text>
<line x1="236.9" y1="169.9" x2="236.9" y2="239.8" stroke="#999" stroke-width="0.3" stroke-dasharray="0.5 1" opacity="0.3"/>
<line x1="236.9" y1="239.8" x2="236.9" y2="241" stroke="#111" stroke-width="0.5" />
<text x="237.6" y="245.2" font-size="4.7" fill="#000" font-weight="bold" text-anchor="middle" stroke="#000" stroke-width="0.24" >0.30</text>
<line x1="257.9" y1="169.9" x2="257.9" y2="239.8" stroke="#999" stroke-width="0.3" stroke-dasharray="0.5 1" opacity="0.3"/>
<line x1="257.9" y1="239.8" x2="257.9" y2="241" stroke="#111" stroke-width="0.5" />
<text x="258" y="245.2" font-size="4.7" fill="#000" font-weight="bold" text-anchor="middle" stroke="#000" stroke-width="0.24" >0.35</text>
<line x1="194" y1="225" x2="266.7" y2="225" stroke="#999" stroke-width="0.3" stroke-dasharray="0.5 1" opacity="0.3"/>
<line x1="194" y1="225" x2="192.8" y2="225" stroke="#111" stroke-width="0.5" />
<text x="192" y="226.4" font-size="4.7" fill="#000" font-weight="bold" text-anchor="end" stroke="#000" stroke-width="0.24" >0.65</text>
<line x1="194" y1="204.6" x2="266.7" y2="204.6" stroke="#999" stroke-width="0.3" stroke-dasharray="0.5 1" opacity="0.3"/>
<line x1="194" y1="204.6" x2="192.8" y2="204.6" stroke="#111" stroke-width="0.5" />
<text x="192" y="206" font-size="4.7" fill="#000" font-weight="bold" text-anchor="end" stroke="#000" stroke-width="0.24" >0.70</text>
<line x1="194" y1="184.2" x2="266.7" y2="184.2" stroke="#999" stroke-width="0.3" stroke-dasharray="0.5 1" opacity="0.3"/>
<line x1="194" y1="184.2" x2="192.8" y2="184.2" stroke="#111" stroke-width="0.5" />
<text x="192" y="185.6" font-size="4.7" fill="#000" font-weight="bold" text-anchor="end" stroke="#000" stroke-width="0.24" >0.75</text>
<polyline points="194,169.9 266.7,169.9 266.7,239.8" fill="none" stroke="#808080" stroke-width="1"/>
<text x="209.2" y="179.7" font-size="4.5" fill="#1c30f4" stroke="#1c30f4" stroke-width="0.1" font-style="italic">540</text>
<text x="238.8" y="206.7" font-size="4.5" fill="#1c30f4" stroke="#1c30f4" stroke-width="0.1" font-style="italic">550</text>
<text x="196.3" y="237.3" font-size="4.9" fill="#1a5a10" stroke="#1a5a10" stroke-width="0.1" >Rec. 2020</text>
<circle cx="216.1" cy="198.9" r="1.1" fill="#10102a"/>
<circle cx="220.4" cy="200.5" r="1.1" fill="#10102a"/>
<circle cx="225.7" cy="202.9" r="1.1" fill="#10102a"/>
<circle cx="228.2" cy="204" r="1.1" fill="#10102a"/>
<circle cx="230.6" cy="205.3" r="1.1" fill="#10102a"/>
<circle cx="235.4" cy="208.5" r="1.1" fill="#10102a"/>
<circle cx="239.4" cy="211.7" r="1.1" fill="#10102a"/>
<circle cx="241.8" cy="213.7" r="1.1" fill="#10102a"/>
<circle cx="243.4" cy="214.9" r="1.1" fill="#10102a"/>
<circle cx="245.8" cy="217.4" r="1.1" fill="#10102a"/>
<circle cx="248.3" cy="219" r="1.1" fill="#10102a"/>
<circle cx="250.7" cy="220.6" r="1.1" fill="#10102a"/>
<circle cx="253.1" cy="222.7" r="1.1" fill="#10102a"/>
<circle cx="255.5" cy="224.3" r="1.1" fill="#10102a"/>
<path d="M212.6 204.5 Q234 210 251 232" stroke="#111" stroke-width="1.2" fill="none" stroke-linecap="round"/>
<text x="211.78 215.29 218.18 219.99 221.77 224.25 226.89 228.29 229.45 231.91 234.07 236.36 238.37 239.35 240.5" y="211.7 212.83 213.99 214.81 215.68 217.06 218.72 219.68 220.5 222.41 224.24 226.36 228.36 229.39 230.63" rotate="17.64 21.57 24.32 26.49 29.04 32.04 34.34 35.81 37.81 40.28 42.66 44.84 46.3 47.32 48.77" font-size="5.1" fill="#111" font-weight="bold" stroke="#111" stroke-width="0.24">Current density</text>
<line x1="253" y1="200.5" x2="243.5" y2="216.5" stroke="#f01830" stroke-width="0.6" />
<circle cx="243.5" cy="216.5" r="0.9" fill="#f01818"/>
<text x="242.4" y="198.9" font-size="4" fill="#000" font-weight="bold" stroke="#000" stroke-width="0.12" >@ 1 A/cm<tspan font-size="2.7" dy="-1.4">2</tspan></text>
<text x="181" y="202.9" font-size="6.1" fill="#000" font-weight="bold" text-anchor="middle" transform="rotate(-90 181 202.9)" stroke="#000" stroke-width="0.12" >CIE <tspan font-family='"Liberation Serif", serif' font-style="italic" font-weight="bold" font-size="6.8">y</tspan></text>
<text x="228.8" y="250.4" font-size="6.4" fill="#000" font-weight="bold" text-anchor="middle" stroke="#000" stroke-width="0.15" >CIE <tspan font-family='"Liberation Serif", serif' font-style="italic" font-weight="bold" font-size="7.8">x</tspan></text>
<polygon points="305,83.8 376.5,154.3 305,154.3" fill="#be0400"/>
<polygon points="305,84.8 375.5,154.3 305,154.3" fill="url(#rg)"/>
<polygon points="349.1,154.3 369,146.9 376,154.3" fill="#cd0a00"/>
<line x1="304.9" y1="83.8" x2="304.9" y2="154.3" stroke="#999" stroke-width="0.3" stroke-dasharray="0.5 1" opacity="0.3"/>
<line x1="304.9" y1="154.3" x2="304.9" y2="155.5" stroke="#111" stroke-width="0.5" />
<text x="304.9" y="159.3" font-size="4.1" fill="#000" font-weight="bold" text-anchor="middle" stroke="#000" stroke-width="0.24" >0.63</text>
<line x1="329.2" y1="83.8" x2="329.2" y2="154.3" stroke="#999" stroke-width="0.3" stroke-dasharray="0.5 1" opacity="0.3"/>
<line x1="329.2" y1="154.3" x2="329.2" y2="155.5" stroke="#111" stroke-width="0.5" />
<text x="329.2" y="159.3" font-size="4.1" fill="#000" font-weight="bold" text-anchor="middle" stroke="#000" stroke-width="0.24" >0.66</text>
<line x1="353.5" y1="83.8" x2="353.5" y2="154.3" stroke="#999" stroke-width="0.3" stroke-dasharray="0.5 1" opacity="0.3"/>
<line x1="353.5" y1="154.3" x2="353.5" y2="155.5" stroke="#111" stroke-width="0.5" />
<text x="353.5" y="159.3" font-size="4.1" fill="#000" font-weight="bold" text-anchor="middle" stroke="#000" stroke-width="0.24" >0.69</text>
<line x1="305" y1="150.1" x2="376.5" y2="150.1" stroke="#999" stroke-width="0.3" stroke-dasharray="0.5 1" opacity="0.3"/>
<line x1="305" y1="150.1" x2="303.8" y2="150.1" stroke="#111" stroke-width="0.5" />
<text x="303" y="151.5" font-size="4.3" fill="#000" font-weight="bold" text-anchor="end" stroke="#000" stroke-width="0.24" >0.285</text>
<line x1="305" y1="126.85" x2="376.5" y2="126.85" stroke="#999" stroke-width="0.3" stroke-dasharray="0.5 1" opacity="0.3"/>
<line x1="305" y1="126.85" x2="303.8" y2="126.85" stroke="#111" stroke-width="0.5" />
<text x="303" y="128.25" font-size="4.3" fill="#000" font-weight="bold" text-anchor="end" stroke="#000" stroke-width="0.24" >0.315</text>
<line x1="305" y1="103.6" x2="376.5" y2="103.6" stroke="#999" stroke-width="0.3" stroke-dasharray="0.5 1" opacity="0.3"/>
<line x1="305" y1="103.6" x2="303.8" y2="103.6" stroke="#111" stroke-width="0.5" />
<text x="303" y="105" font-size="4.3" fill="#000" font-weight="bold" text-anchor="end" stroke="#000" stroke-width="0.24" >0.345</text>
<polyline points="305,83.8 376.5,83.8 376.5,154.3" fill="none" stroke="#808080" stroke-width="1"/>
<text x="307.8" y="152" font-size="4.9" fill="#ffdcd4" stroke="#ffdcd4" stroke-width="0.1" >Rec. 2020</text>
<circle cx="314.3" cy="92" r="0.9" fill="#111"/>
<circle cx="331" cy="108.5" r="0.9" fill="#111"/>
<circle cx="344.8" cy="121.8" r="0.9" fill="#111"/>
<circle cx="346.5" cy="123.5" r="0.9" fill="#111"/>
<circle cx="348.2" cy="125.2" r="0.9" fill="#111"/>
<circle cx="350" cy="127" r="0.9" fill="#111"/>
<circle cx="352" cy="129" r="0.9" fill="#111"/>
<circle cx="354.5" cy="131.5" r="0.9" fill="#111"/>
<circle cx="357" cy="134" r="0.9" fill="#111"/>
<circle cx="359.5" cy="136.5" r="0.9" fill="#111"/>
<circle cx="361.5" cy="138.5" r="0.9" fill="#111"/>
<circle cx="363" cy="140" r="0.9" fill="#111"/>
<text x="335.6" y="111.5" font-size="3.7" fill="#1c30f4" stroke="#1c30f4" stroke-width="0.08" >610</text>
<text x="356.6" y="132" font-size="3.7" fill="#1c30f4" stroke="#1c30f4" stroke-width="0.08" >620</text>
<text x="368.6" y="145" font-size="3.7" fill="#1c30f4" stroke="#1c30f4" stroke-width="0.08" >630</text>
<ellipse cx="335.15" cy="125.5" rx="20.13" ry="0.8" fill="none" stroke="#fff" stroke-width="0.85" transform="rotate(39.86 335.15 125.5)"/>
<text x="315.7" y="117.6" font-size="5" fill="#fff" font-weight="bold" transform="rotate(40 315.7 117.6)" stroke="#fff" stroke-width="0.24" >Current density</text>
<line x1="369" y1="124" x2="363" y2="139" stroke="#f01830" stroke-width="0.6" />
<text x="354.4" y="123.1" font-size="4" fill="#000" font-weight="bold" stroke="#000" stroke-width="0.12" >@ 1 A/cm<tspan font-size="2.7" dy="-1.4">2</tspan></text>
<text x="291" y="117.5" font-size="6.1" fill="#000" font-weight="bold" text-anchor="middle" transform="rotate(-90 291 117.5)" stroke="#000" stroke-width="0.12" >CIE <tspan font-family='"Liberation Serif", serif' font-style="italic" font-weight="bold" font-size="6.8">y</tspan></text>
<text x="339.6" y="165.5" font-size="6.4" fill="#000" font-weight="bold" text-anchor="middle" stroke="#000" stroke-width="0.15" >CIE <tspan font-family='"Liberation Serif", serif' font-style="italic" font-weight="bold" font-size="7.8">x</tspan></text>
<polygon points="305,169.9 376.5,239.8 305,239.8" fill="#be0400"/>
<polygon points="305,170.9 375.5,239.8 305,239.8" fill="url(#rg)"/>
<polygon points="349.1,239.8 369,232.4 376,239.8" fill="#cd0a00"/>
<line x1="304.9" y1="169.9" x2="304.9" y2="239.8" stroke="#999" stroke-width="0.3" stroke-dasharray="0.5 1" opacity="0.3"/>
<line x1="304.9" y1="239.8" x2="304.9" y2="241" stroke="#111" stroke-width="0.5" />
<text x="304.9" y="244.8" font-size="4.1" fill="#000" font-weight="bold" text-anchor="middle" stroke="#000" stroke-width="0.24" >0.63</text>
<line x1="329.2" y1="169.9" x2="329.2" y2="239.8" stroke="#999" stroke-width="0.3" stroke-dasharray="0.5 1" opacity="0.3"/>
<line x1="329.2" y1="239.8" x2="329.2" y2="241" stroke="#111" stroke-width="0.5" />
<text x="329.2" y="244.8" font-size="4.1" fill="#000" font-weight="bold" text-anchor="middle" stroke="#000" stroke-width="0.24" >0.66</text>
<line x1="353.5" y1="169.9" x2="353.5" y2="239.8" stroke="#999" stroke-width="0.3" stroke-dasharray="0.5 1" opacity="0.3"/>
<line x1="353.5" y1="239.8" x2="353.5" y2="241" stroke="#111" stroke-width="0.5" />
<text x="353.5" y="244.8" font-size="4.1" fill="#000" font-weight="bold" text-anchor="middle" stroke="#000" stroke-width="0.24" >0.69</text>
<line x1="305" y1="236.2" x2="376.5" y2="236.2" stroke="#999" stroke-width="0.3" stroke-dasharray="0.5 1" opacity="0.3"/>
<line x1="305" y1="236.2" x2="303.8" y2="236.2" stroke="#111" stroke-width="0.5" />
<text x="303" y="237.6" font-size="4.3" fill="#000" font-weight="bold" text-anchor="end" stroke="#000" stroke-width="0.24" >0.285</text>
<line x1="305" y1="212.95" x2="376.5" y2="212.95" stroke="#999" stroke-width="0.3" stroke-dasharray="0.5 1" opacity="0.3"/>
<line x1="305" y1="212.95" x2="303.8" y2="212.95" stroke="#111" stroke-width="0.5" />
<text x="303" y="214.35" font-size="4.3" fill="#000" font-weight="bold" text-anchor="end" stroke="#000" stroke-width="0.24" >0.315</text>
<line x1="305" y1="189.7" x2="376.5" y2="189.7" stroke="#999" stroke-width="0.3" stroke-dasharray="0.5 1" opacity="0.3"/>
<line x1="305" y1="189.7" x2="303.8" y2="189.7" stroke="#111" stroke-width="0.5" />
<text x="303" y="191.1" font-size="4.3" fill="#000" font-weight="bold" text-anchor="end" stroke="#000" stroke-width="0.24" >0.345</text>
<polyline points="305,169.9 376.5,169.9 376.5,239.8" fill="none" stroke="#808080" stroke-width="1"/>
<text x="307.8" y="237.5" font-size="4.9" fill="#ffdcd4" stroke="#ffdcd4" stroke-width="0.1" >Rec. 2020</text>
<circle cx="312.3" cy="178.5" r="0.9" fill="#111"/>
<circle cx="331.7" cy="195.3" r="0.9" fill="#111"/>
<circle cx="334.1" cy="198.5" r="0.9" fill="#111"/>
<circle cx="345" cy="208.6" r="0.9" fill="#111"/>
<circle cx="349.5" cy="213.5" r="0.9" fill="#111"/>
<circle cx="353.8" cy="218.3" r="0.9" fill="#111"/>
<circle cx="357" cy="221" r="0.9" fill="#111"/>
<circle cx="360" cy="223.7" r="0.9" fill="#111"/>
<circle cx="362.5" cy="226" r="0.9" fill="#111"/>
<circle cx="364.5" cy="227.8" r="0.9" fill="#111"/>
<circle cx="365.9" cy="228.8" r="0.9" fill="#111"/>
<text x="335.6" y="197.8" font-size="3.7" fill="#1c30f4" stroke="#1c30f4" stroke-width="0.08" >610</text>
<text x="357.2" y="217.7" font-size="3.7" fill="#1c30f4" stroke="#1c30f4" stroke-width="0.08" >620</text>
<text x="369.6" y="231.1" font-size="3.7" fill="#1c30f4" stroke="#1c30f4" stroke-width="0.08" >630</text>
<ellipse cx="336.35" cy="211.65" rx="22.73" ry="0.8" fill="none" stroke="#fff" stroke-width="0.85" transform="rotate(41.79 336.35 211.65)"/>
<text x="315.6" y="203.5" font-size="5" fill="#fff" font-weight="bold" transform="rotate(40 315.6 203.5)" stroke="#fff" stroke-width="0.24" >Current density</text>
<line x1="367" y1="212.5" x2="366.2" y2="228.5" stroke="#f01830" stroke-width="0.6" />
<text x="354.5" y="210.7" font-size="4" fill="#000" font-weight="bold" stroke="#000" stroke-width="0.12" >@ 1 A/cm<tspan font-size="2.7" dy="-1.4">2</tspan></text>
<text x="291" y="203" font-size="6.1" fill="#000" font-weight="bold" text-anchor="middle" transform="rotate(-90 291 203)" stroke="#000" stroke-width="0.12" >CIE <tspan font-family='"Liberation Serif", serif' font-style="italic" font-weight="bold" font-size="6.8">y</tspan></text>
<text x="339.6" y="251" font-size="6.4" fill="#000" font-weight="bold" text-anchor="middle" stroke="#000" stroke-width="0.15" >CIE <tspan font-family='"Liberation Serif", serif' font-style="italic" font-weight="bold" font-size="7.8">x</tspan></text>
</svg>
</body></html>
